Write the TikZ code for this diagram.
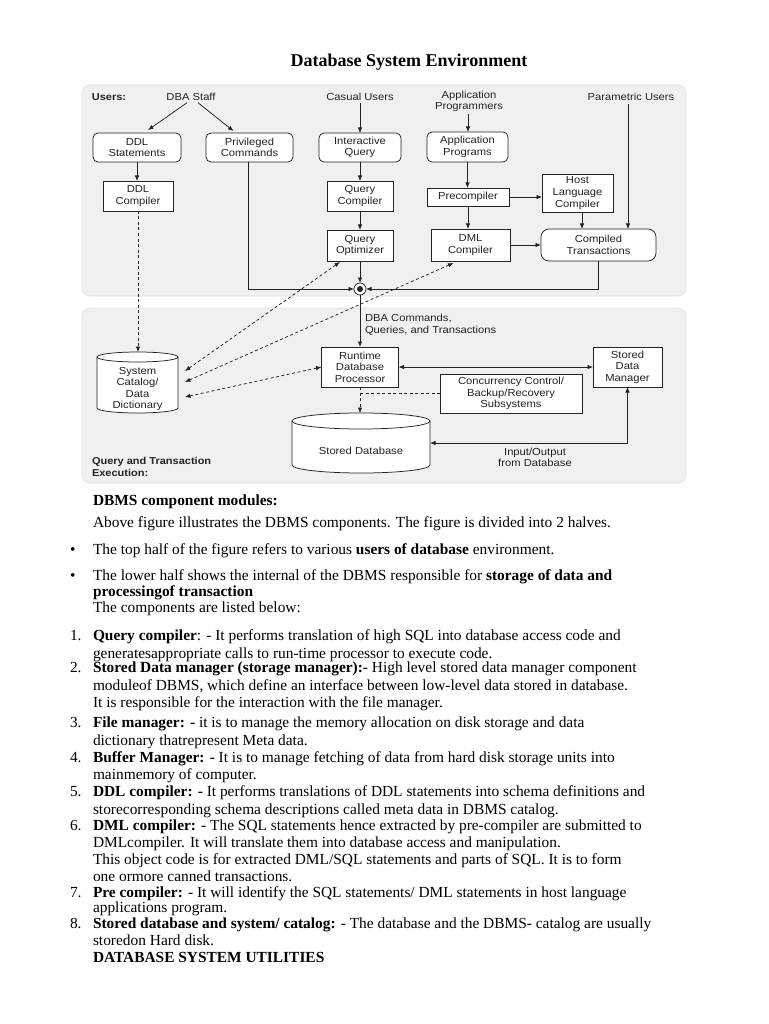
\documentclass[tikz,border=0pt]{standalone}
\usepackage{fontspec}
\setmainfont{Liberation Serif}
\newfontfamily\diagfont[FakeStretch=1.1]{Liberation Sans}
\usetikzlibrary{arrows.meta,calc}
\definecolor{panelc}{RGB}{240,240,240}
\definecolor{inkc}{RGB}{35,35,35}
\begin{document}
\begin{tikzpicture}[x=1pt,y=1pt,
  every node/.style={inner sep=0pt,outer sep=0pt},
  lbl/.style={font=\diagfont\fontsize{10.2}{11.6}\selectfont,align=center,text=inkc},
  blbl/.style={font=\diagfont\bfseries\fontsize{10}{11.6}\selectfont,align=left,text=inkc},
  rbox/.style={lbl,draw=inkc,fill=white,line width=0.75pt,rounded corners=5pt},
  sbox/.style={lbl,draw=inkc,fill=white,line width=0.75pt},
  conn/.style={draw=inkc,line width=0.75pt},
  arr/.style={conn,-{Latex[length=5.5pt,width=4.5pt]}},
  darr/.style={arr,dash pattern=on 3pt off 2.5pt},
  ddarr/.style={conn,dash pattern=on 3pt off 2.5pt,{Latex[length=5.5pt,width=4.5pt]}-{Latex[length=5.5pt,width=4.5pt]}},
  biarr/.style={conn,{Latex[length=5.5pt,width=4.5pt]}-{Latex[length=5.5pt,width=4.5pt]}},
  panel/.style={fill=panelc,draw=black!12,line width=0.6pt,rounded corners=8pt},
  cyl/.style={draw=inkc,fill=white,line width=0.75pt},
  txt/.style={font=\fontsize{15.4}{17}\selectfont,anchor=base west,text=black},
]
\useasboundingbox[fill=white] (0,0) rectangle (768,-1024);

% title
\node[font=\bfseries\fontsize{18}{21}\selectfont,anchor=base] (title) at (409,-67) {Database System Environment};

% panels
\path[panel] (82,-85) rectangle (686,-296);
\path[panel] (82,-308) rectangle (686,-483);

% users row
\node[blbl] (users) at (109,-97) {Users:};
\node[lbl] (dba) at (191,-97) {DBA Staff};
\node[lbl] (casual) at (360,-97) {Casual Users};
\node[lbl] (appprog) at (469,-101.5) {Application\\Programmers};
\node[lbl] (param) at (631,-97) {Parametric Users};

% top boxes
\node[rbox,minimum width=88,minimum height=29] (ddls) at (137,-147.5) {DDL\\Statements};
\node[rbox,minimum width=87,minimum height=29] (priv) at (249.5,-147.5) {Privileged\\Commands};
\node[rbox,minimum width=82,minimum height=29] (iq) at (360,-147.5) {Interactive\\Query};
\node[rbox,minimum width=81,minimum height=30] (ap) at (467.5,-147) {Application\\Programs};
\node[sbox,minimum width=70,minimum height=30] (ddlc) at (138,-196) {DDL\\Compiler};
\node[sbox,minimum width=66,minimum height=30] (qc) at (360,-196) {Query\\Compiler};
\node[sbox,minimum width=82,minimum height=18] (pre) at (468,-197) {Precompiler};
\node[sbox,minimum width=71,minimum height=38] (hlc) at (577.5,-193) {Host\\Language\\Compiler};
\node[sbox,minimum width=66,minimum height=31] (qo) at (360,-245.5) {Query\\Optimizer};
\node[sbox,minimum width=79,minimum height=32] (dml) at (470.5,-245) {DML\\Compiler};
\node[rbox,rounded corners=8pt,minimum width=115,minimum height=32] (ct) at (598.5,-245) {Compiled\\Transactions};

% hub
\node[circle,draw=inkc,fill=white,line width=0.75pt,minimum size=12] (hub) at (360,-289) {};
\fill[inkc] (hub.center) circle (3);

% bottom panel items
\node[lbl,align=left,anchor=west] (dbacmd) at (365,-325) {DBA Commands,\\Queries, and Transactions};
\node[sbox,minimum width=77,minimum height=40] (rt) at (360,-367) {Runtime\\Database\\Processor};
\node[sbox,minimum width=69,minimum height=40] (sdm) at (627.5,-367) {Stored\\Data\\Manager};
\node[sbox,minimum width=142,minimum height=39] (cc) at (511,-393.5) {Concurrency Control/\\Backup/Recovery\\Subsystems};

% system catalog cylinder
\path[cyl] (97,-357) -- (97,-408) arc[start angle=180,end angle=360,x radius=40.5,y radius=5] -- (178,-357) arc[start angle=0,end angle=180,x radius=40.5,y radius=5] -- cycle;
\draw[conn] (97,-357) arc[start angle=180,end angle=360,x radius=40.5,y radius=5];
\node[lbl] (cat) at (137.5,-389) {System\\Catalog/\\Data\\Dictionary};

% stored database cylinder
\path[cyl] (292,-421) -- (292,-465) arc[start angle=180,end angle=360,x radius=69,y radius=8] -- (430,-421) arc[start angle=0,end angle=180,x radius=69,y radius=8] -- cycle;
\draw[conn] (292,-421) arc[start angle=180,end angle=360,x radius=69,y radius=8];
\node[lbl] (sdb) at (361,-451) {Stored Database};

\node[lbl] (io) at (535,-457.5) {Input/Output\\from Database};
\node[blbl,anchor=west] (qte) at (92,-467) {Query and Transaction\\Execution:};

% anchor coordinates
\coordinate (cattop) at (138,-352);
\coordinate (c1) at (185,-371);
\coordinate (c2) at (185,-382);
\coordinate (c3) at (185,-397);
\coordinate (dbtop) at (360,-413);
\coordinate (dbR) at (430,-443);
\coordinate (ctp) at ($(ct.north)+(29.5,0)$);
\coordinate (hlcs) at ($(hlc.south)+(4.5,0)$);

% connectors top
\draw[arr] ($(dba.south)+(-4,-2)$) -- ($(ddls.north)+(11,3)$);
\draw[arr] ($(dba.south)+(7,-2)$) -- ($(priv.north)+(-16,2)$);
\draw[arr] ($(casual.south)+(0,-2)$) -- (iq.north);
\draw[arr] ($(appprog.south)+(-1,-2)$) -- ($(ap.north)+(0.5,0)$);
\draw[arr] ($(ctp |- param.south)+(0,-3)$) -- (ctp);
\draw[arr] (ddls.south) -- (ddls.south |- ddlc.north);
\draw[arr] (iq.south) -- (qc.north);
\draw[arr] (qc.south) -- (qo.north);
\draw[arr] (ap.south) -- (ap.south |- pre.north);
\draw[arr] (pre.south) -- (pre.south |- dml.north);
\draw[arr] (pre.east) -- (pre.east -| hlc.west);
\draw[arr] (hlcs) -- (hlcs |- ct.north);
\draw[arr] (dml.east) -- (dml.east -| ct.west);
\draw[arr] ($(priv.south)+(-1.5,0)$) |- (hub.west);
\draw[arr] (ct.south) |- (hub.east);
\draw[arr] (qo.south) -- (hub.north);
\draw[arr] (hub.south) -- (rt.north);

% dashed catalog links
\draw[darr] (ddlc.south) -- (cattop);
\draw[ddarr] (c1) -- ($(qo.south)+(-20,-1)$);
\draw[ddarr] (c2) -- ($(dml.south)+(-17,-2)$);
\draw[ddarr] (c3) -- (rt.west);

% bottom connectors
\draw[biarr] (rt.east) -- (sdm.west);
\draw[conn,dash pattern=on 3pt off 2.5pt] (cc.west) -- (cc.west -| rt.south);
\draw[darr] (rt.south) -- (dbtop);
\draw[biarr] (sdm.south) |- (dbR);

% body text
\node[txt] (h1) at (93,-505) {\textbf{DBMS component modules:}};
\node[txt] (p1) at (93,-527.5) {Above figure illustrates the DBMS components. The figure is divided into 2 halves.};
\node[txt] (bu1) at (70,-554) {•};
\node[txt] (p2) at (93,-554) {The top half of the figure refers to various \textbf{users of database} environment.};
\node[txt] (bu2) at (70,-580) {•};
\node[txt] (p3) at (93,-580) {The lower half shows the internal of the DBMS responsible for \textbf{storage of data and}};
\node[txt] (p3b) at (93,-596) {\textbf{processingof transaction}};
\node[txt] (p3c) at (93,-612) {The components are listed below:};

\node[txt] (n1) at (70,-640.5) {1.};
\node[txt] (l1a) at (93,-640.5) {\textbf{Query compiler}: - It performs translation of high SQL into database access code and};
\node[txt] (l1b) at (93,-658) {generatesappropriate calls to run-time processor to execute code.};
\node[txt] (n2) at (70,-672.5) {2.};
\node[txt] (l2a) at (93,-672.5) {\textbf{Stored Data manager (storage manager):-} High level stored data manager component};
\node[txt] (l2b) at (93,-690) {moduleof DBMS, which define an interface between low-level data stored in database.};
\node[txt] (l2c) at (93,-707) {It is responsible for the interaction with the file manager.};
\node[txt] (n3) at (70,-727) {3.};
\node[txt] (l3a) at (93,-727) {\textbf{File manager: -} it is to manage the memory allocation on disk storage and data};
\node[txt] (l3b) at (93,-745) {dictionary thatrepresent Meta data.};
\node[txt] (n4) at (70,-762) {4.};
\node[txt] (l4a) at (93,-762) {\textbf{Buffer Manager: -} It is to manage fetching of data from hard disk storage units into};
\node[txt] (l4b) at (93,-779) {mainmemory of computer.};
\node[txt] (n5) at (70,-796) {5.};
\node[txt] (l5a) at (93,-796) {\textbf{DDL compiler: -} It performs translations of DDL statements into schema definitions and};
\node[txt] (l5b) at (93,-814) {storecorresponding schema descriptions called meta data in DBMS catalog.};
\node[txt] (n6) at (70,-830) {6.};
\node[txt] (l6a) at (93,-830) {\textbf{DML compiler: -} The SQL statements hence extracted by pre-compiler are submitted to};
\node[txt] (l6b) at (93,-847) {DMLcompiler. It will translate them into database access and manipulation.};
\node[txt] (l6c) at (93,-864) {This object code is for extracted DML/SQL statements and parts of SQL. It is to form};
\node[txt] (l6d) at (93,-881) {one ormore canned transactions.};
\node[txt] (n7) at (70,-897) {7.};
\node[txt] (l7a) at (93,-897) {\textbf{Pre compiler:} - It will identify the SQL statements/ DML statements in host language};
\node[txt] (l7b) at (93,-912) {applications program.};
\node[txt] (n8) at (70,-928) {8.};
\node[txt] (l8a) at (93,-928) {\textbf{Stored database and system/ catalog:} - The database and the DBMS- catalog are usually};
\node[txt] (l8b) at (93,-945) {storedon Hard disk.};
\node[txt] (h2) at (93,-962.5) {\textbf{DATABASE SYSTEM UTILITIES}};
\end{tikzpicture}
\end{document}
